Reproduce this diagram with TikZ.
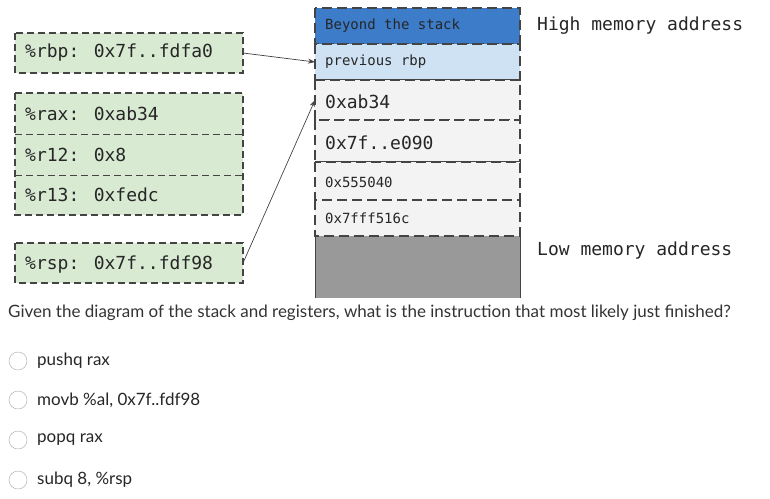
\documentclass[tikz,border=0pt]{standalone}
\usepackage{fontspec}
\usetikzlibrary{arrows.meta}
\setmainfont{Lato}
\newfontfamily\mono{DejaVu Sans Mono}
\definecolor{regg}{HTML}{D9EAD3}
\definecolor{dk}{HTML}{3D7CC9}
\definecolor{lb}{HTML}{CFE2F3}
\definecolor{cellc}{HTML}{F3F3F3}
\definecolor{grayc}{HTML}{999999}
\definecolor{bd}{HTML}{444444}
\begin{document}
\begin{tikzpicture}[x=1pt,y=-1pt,
  reg/.style={draw=bd,fill=regg,dash pattern=on 7pt off 4pt,line width=1.1pt},
  regt/.style={anchor=west,font=\mono\fontsize{18}{21}\selectfont,inner sep=0,text=black!85},
  cell/.style={draw=bd,dash pattern=on 10pt off 5pt,line width=1.1pt},
  big/.style={anchor=west,font=\mono\fontsize{18}{21}\selectfont,inner sep=0,text=black!85},
  sm/.style={anchor=west,font=\mono\fontsize{14}{17}\selectfont,inner sep=0,text=black!85},
  opt/.style={anchor=west,font=\fontsize{17}{20}\selectfont,inner sep=0,text=black!85},
  radio/.style={circle,draw=black!35,minimum size=18pt,inner sep=0},
  arr/.style={draw=bd,line width=0.7pt,-{Stealth[length=7pt,width=5pt]}}]
\useasboundingbox (0,0) rectangle (770,498);
% registers
\draw[reg] (15,33) rectangle (243,73);
\node[regt] (rbp) at (25,53) {\%rbp: 0x7f..fdfa0};
\draw[reg] (15,93) rectangle (243,215);
\draw[bd,dash pattern=on 7pt off 4pt,line width=0.6pt] (15,134) -- (243,134) (15,175) -- (243,175);
\node[regt] (rax) at (25,114) {\%rax: 0xab34};
\node[regt] (r12) at (25,155) {\%r12: 0x8};
\node[regt] (r13) at (25,195) {\%r13: 0xfedc};
\draw[reg] (15,243) rectangle (243,283);
\node[regt] (rsp) at (25,265) {\%rsp: 0x7f..fdf98};
\coordinate (rbpE) at (243,53);
\coordinate (rspE) at (243,263);
% stack
\fill[grayc] (315,236) rectangle (520,298);
\draw[bd,line width=1pt] (315,236) -- (315,298) (520,236) -- (520,298);
\draw[cell,fill=dk] (315,8) rectangle (520,44);
\draw[cell,fill=lb] (315,44) rectangle (520,80);
\draw[cell,fill=cellc] (315,80) rectangle (520,120);
\draw[cell,fill=cellc] (315,120) rectangle (520,162);
\draw[cell,fill=cellc] (315,162) rectangle (520,200);
\draw[cell,fill=cellc] (315,200) rectangle (520,236);
\node[sm] (beyond) at (325,26) {Beyond the stack};
\node[sm] (prev) at (325,62) {previous rbp};
\node[big] (ab) at (325,102) {0xab34};
\node[big] (e090) at (325,143) {0x7f..e090};
\node[sm] (s55) at (325,182) {0x555040};
\node[sm] (s7f) at (325,218) {0x7fff516c};
\coordinate (prevW) at (315,62);
\coordinate (abW) at (315,100);
\draw[arr] (rbpE) -- (prevW);
\draw[arr] (rspE) -- (abW);
\node[big] (hi) at (537,26) {High memory address};
\node[big] (lo) at (537,251) {Low memory address};
% question
\node[opt,text=black!80] (q) at (8,313) {Given the diagram of the stack and registers, what is the instruction that most likely just finished?};
\node[radio] (c1) at (18,361) {};
\node[radio] (c2) at (18,400) {};
\node[radio] (c3) at (18,440) {};
\node[radio] (c4) at (18,480) {};
\node[opt] (o1) at (37,361) {pushq rax};
\node[opt] (o2) at (37,400) {movb \%al, 0x7f..fdf98};
\node[opt] (o3) at (37,440) {popq rax};
\node[opt] (o4) at (37,480) {subq 8, \%rsp};
\end{tikzpicture}
\end{document}
